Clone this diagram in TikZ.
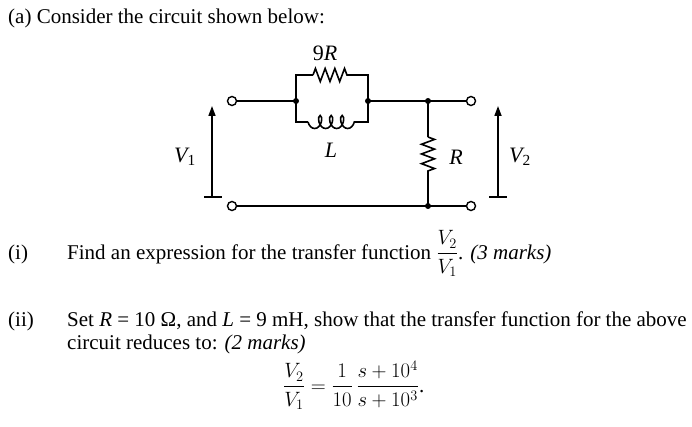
\documentclass[tikz,border=0pt]{standalone}
\usepackage{amsmath}
\usepackage{fontspec}
\setmainfont{Liberation Serif}
\usetikzlibrary{decorations.pathmorphing,arrows.meta}
\begin{document}
\begin{tikzpicture}[x=1pt,y=-1pt,
  wire/.style={line width=1.6pt},
  term/.style={circle,draw,line width=1.4pt,fill=white,inner sep=0pt,minimum size=9pt},
  dot/.style={circle,fill,inner sep=0pt,minimum size=6pt},
  txt/.style={anchor=base west,inner sep=0pt,font=\fontsize{21}{25}\selectfont},
  lbl/.style={inner sep=0pt,font=\fontsize{22}{26}\selectfont\itshape},
  res/.style={wire,decorate,decoration={zigzag,segment length=9.7pt,amplitude=6.5pt}},
  volt/.style={line width=1.6pt,-{Triangle[length=10pt,width=7pt]}}]
\useasboundingbox (0,0) rectangle (692,427);
\node[txt] (t1) at (8,24) {(a)\ Consider the circuit shown below:};
% coordinates
\coordinate (jl) at (296,101);
\coordinate (jr) at (368,101);
\coordinate (jn) at (428,101);
\coordinate (jb) at (428,206);
\coordinate (tl1) at (296,75);
\coordinate (tr1) at (368,75);
\coordinate (bl1) at (296,122);
\coordinate (br1) at (368,122);
\coordinate (r9a) at (313,75);
\coordinate (r9b) at (347,75);
\coordinate (la) at (308,122);
\coordinate (lb) at (355,122);
\coordinate (ra) at (428,137);
\coordinate (rb) at (428,173);
\node[term] (ti) at (232,101) {};
\node[term] (bi) at (232,206) {};
\node[term] (to) at (471,101) {};
\node[term] (bo) at (471,206) {};
% wires
\draw[wire] (ti) -- (jl) -- (tl1) -- (r9a);
\draw[res] (r9a) -- (r9b);
\draw[wire] (r9b) -- (tr1) -- (jr) -- (jn) -- (to);
\draw[wire] (jl) -- (bl1) -- (la);
\draw[wire,decorate,decoration={coil,aspect=0.6,segment length=11pt,amplitude=6.5pt,mirror}] (la) -- (lb);
\draw[wire] (lb) -- (br1) -- (jr);
\draw[wire] (jn) -- (ra);
\draw[res] (ra) -- (rb);
\draw[wire] (rb) -- (jb);
\draw[wire] (bi) -- (jb) -- (bo);
\node[dot] (d1) at (jl) {};
\node[dot] (d2) at (jr) {};
\node[dot] (d3) at (jn) {};
\node[dot] (d4) at (jb) {};
% labels
\node[lbl] (l9r) at (325,53) {\upshape 9\textit{R}};
\node[lbl] (lL) at (331,150) {L};
\node[lbl] (lR) at (456,157) {R};
% voltage arrows
\coordinate (a1b) at (212,197);
\coordinate (a1t) at (212,106);
\coordinate (a1l) at (204,197);
\coordinate (a1r) at (222,197);
\draw[volt] (a1b) -- (a1t);
\draw[wire] (a1l) -- (a1r);
\coordinate (a2b) at (498,197);
\coordinate (a2t) at (498,106);
\coordinate (a2l) at (489,197);
\coordinate (a2r) at (507,197);
\draw[volt] (a2b) -- (a2t);
\draw[wire] (a2l) -- (a2r);
\node[lbl] (v1) at (185,157) {V\textsubscript{\upshape 1}};
\node[lbl] (v2) at (520,157) {V\textsubscript{\upshape 2}};
% questions
\node[txt] (q1n) at (8,259) {(i)};
\node[txt] (q1) at (67,259) {Find an expression for the transfer function $\dfrac{V_2}{V_1}$. \textit{(3 marks)}};
\node[txt] (q2n) at (8,326) {(ii)};
\node[txt] (q2) at (67,326) {Set \textit{R} = 10 Ω, and \textit{L} = 9 mH, show that the transfer function for the above};
\node[txt] (q3) at (67,349) {circuit reduces to: \textit{(2 marks)}};
\node[txt] (eq) at (283,392) {$\dfrac{V_2}{V_1}=\dfrac{1}{10}\,\dfrac{s+10^4}{s+10^3}$.};
\end{tikzpicture}
\end{document}
